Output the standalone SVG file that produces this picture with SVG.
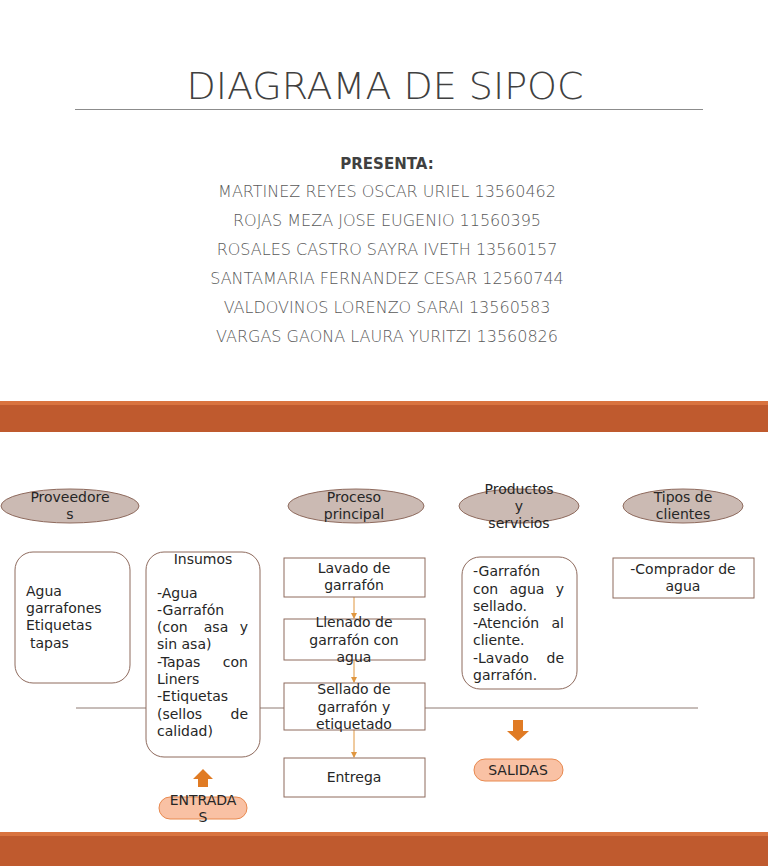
<svg xmlns="http://www.w3.org/2000/svg" width="768" height="866" viewBox="0 0 768 866">
<defs>
<style>
text{font-family:"DejaVu Sans","Liberation Sans",sans-serif;fill:#262626}
.n{font-size:16px;fill:#595959;text-anchor:middle;font-weight:300}
.t{font-size:14px}
.c{text-anchor:middle}
.ell{fill:#cbbab3;stroke:#8e6a5d;stroke-width:1}
.box{fill:#fff;stroke:#8e6a5d;stroke-width:1}
.pill{fill:#f9c1a4;stroke:#e8894f;stroke-width:1}
.arr{fill:#e07b24}
</style>
<marker id="ah" markerWidth="6" markerHeight="6" refX="5" refY="3" orient="auto"><path d="M0,0L6,3L0,6z" fill="#e0963f"/></marker>
</defs>
<rect width="768" height="866" fill="#fff"/>
<text x="385" y="99" font-size="38" class="c" style="fill:#404040;font-weight:300">DIAGRAMA DE SIPOC</text>
<line x1="75" y1="109.5" x2="703" y2="109.5" stroke="#8c8c8c"/>
<text x="387" y="169" font-size="15" font-weight="bold" class="c" style="fill:#404040">PRESENTA:</text>
<text x="387" y="197" class="n">MARTINEZ REYES OSCAR URIEL 13560462</text>
<text x="387" y="226" class="n">ROJAS MEZA JOSE EUGENIO 11560395</text>
<text x="387" y="255" class="n">ROSALES CASTRO SAYRA IVETH 13560157</text>
<text x="387" y="284" class="n">SANTAMARIA FERNANDEZ CESAR 12560744</text>
<text x="387" y="313" class="n">VALDOVINOS LORENZO SARAI 13560583</text>
<text x="387" y="342" class="n">VARGAS GAONA LAURA YURITZI 13560826</text>
<rect x="0" y="401" width="768" height="31" fill="#bf5a2e"/>
<rect x="0" y="401" width="768" height="4" fill="#d9733f"/>
<rect x="0" y="832" width="768" height="34" fill="#bf5a2e"/>
<rect x="0" y="832" width="768" height="4" fill="#d9733f"/>

<g id="connectors" stroke-width="1">
<line x1="76" y1="708" x2="146" y2="708" stroke="#8e7a72"/>
<line x1="260" y1="708" x2="284" y2="708" stroke="#8e7a72"/>
<line x1="425" y1="708" x2="698" y2="708" stroke="#8e7a72"/>
<line x1="354" y1="597" x2="354" y2="618" stroke="#e0963f" marker-end="url(#ah)"/>
<line x1="354" y1="660" x2="354" y2="682" stroke="#e0963f" marker-end="url(#ah)"/>
<line x1="354" y1="730" x2="354" y2="757" stroke="#e0963f" marker-end="url(#ah)"/>
<path class="arr" d="M203,769L213,779L208,779L208,787L198,787L198,779L193,779z"/>
<path class="arr" d="M513,720L523,720L523,731L529,731L518,741L507,731L513,731z"/>
</g>

<g id="proveedores-h"><ellipse class="ell" cx="70" cy="506" rx="69" ry="17"/><text x="70" y="502" class="t c">Proveedore</text><text x="70" y="519" class="t c">s</text></g>
<g id="proceso-h"><ellipse class="ell" cx="356" cy="506" rx="68" ry="17"/><text x="354" y="502" class="t c">Proceso</text><text x="354" y="519" class="t c">principal</text></g>
<g id="productos-h"><ellipse class="ell" cx="519" cy="506" rx="60" ry="17"/><text x="519" y="494" class="t c">Productos</text><text x="519" y="511" class="t c">y</text><text x="519" y="528" class="t c">servicios</text></g>
<g id="tipos-h"><ellipse class="ell" cx="683" cy="506" rx="60" ry="17"/><text x="683" y="502" class="t c">Tipos de</text><text x="683" y="519" class="t c">clientes</text></g>

<g id="proveedores"><rect class="box" x="15" y="552" width="115" height="131" rx="18"/>
<text x="26" y="596" class="t">Agua</text><text x="26" y="613" class="t">garrafones</text><text x="26" y="630" class="t">Etiquetas</text><text x="30" y="648" class="t">tapas</text></g>
<g id="insumos"><rect class="box" x="146" y="552" width="114" height="205" rx="18"/>
<text x="203" y="564" class="t c">Insumos</text>
<text x="157" y="598" class="t">-Agua</text><text x="157" y="615" class="t">-Garrafón</text>
<text x="157" y="632" class="t">(con</text><text x="216" y="632" class="t c">asa</text><text x="248" y="632" class="t" text-anchor="end">y</text>
<text x="157" y="649" class="t">sin asa)</text>
<text x="157" y="667" class="t">-Tapas</text><text x="248" y="667" class="t" text-anchor="end">con</text>
<text x="157" y="684" class="t">Liners</text><text x="157" y="701" class="t">-Etiquetas</text>
<text x="157" y="719" class="t">(sellos</text><text x="248" y="719" class="t" text-anchor="end">de</text>
<text x="157" y="736" class="t">calidad)</text></g>
<g id="lavado"><rect class="box" x="284" y="558" width="141" height="39"/><text x="354" y="573" class="t c">Lavado de</text><text x="354" y="590" class="t c">garrafón</text></g>
<g id="llenado"><rect class="box" x="284" y="619" width="141" height="41"/><text x="354" y="627" class="t c">Llenado de</text><text x="354" y="645" class="t c">garrafón con</text><text x="354" y="662" class="t c">agua</text></g>
<g id="sellado"><rect class="box" x="284" y="683" width="141" height="47"/><text x="354" y="694" class="t c">Sellado de</text><text x="354" y="712" class="t c">garrafón y</text><text x="354" y="729" class="t c">etiquetado</text></g>
<g id="entrega"><rect class="box" x="284" y="758" width="141" height="39"/><text x="354" y="782" class="t c">Entrega</text></g>
<g id="productos"><rect class="box" x="462" y="557" width="115" height="132" rx="18"/>
<text x="473" y="576" class="t">-Garrafón</text>
<text x="473" y="594" class="t">con</text><text x="527" y="594" class="t c">agua</text><text x="564" y="594" class="t" text-anchor="end">y</text>
<text x="473" y="611" class="t">sellado.</text>
<text x="473" y="628" class="t">-Atención</text><text x="564" y="628" class="t" text-anchor="end">al</text>
<text x="473" y="645" class="t">cliente.</text>
<text x="473" y="663" class="t">-Lavado</text><text x="564" y="663" class="t" text-anchor="end">de</text>
<text x="473" y="680" class="t">garrafón.</text></g>
<g id="clientes"><rect class="box" x="613" y="558" width="141" height="40"/><text x="683" y="574" class="t c">-Comprador de</text><text x="683" y="591" class="t c">agua</text></g>
<g id="entradas"><rect class="pill" x="159" y="797" width="88" height="22" rx="11"/><text x="203" y="805" class="t c">ENTRADA</text><text x="203" y="822" class="t c">S</text></g>
<g id="salidas"><rect class="pill" x="474" y="759" width="89" height="22" rx="11"/><text x="518" y="775" class="t c">SALIDAS</text></g>
</svg>
